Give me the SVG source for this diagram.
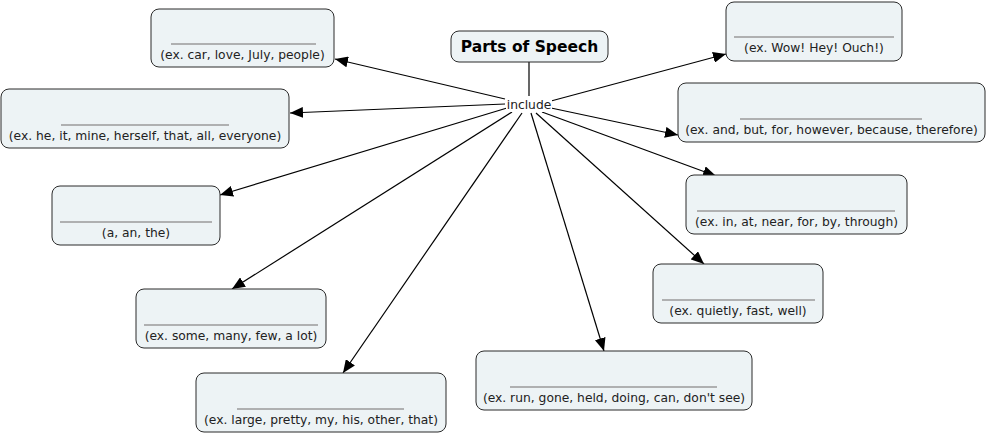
<svg xmlns="http://www.w3.org/2000/svg" width="988" height="435" viewBox="0 0 988 435">
<defs>
<style>
.box{fill:#edf3f5;stroke:#2b2b2b;stroke-width:1}
.ph{stroke:#9a9a9a;stroke-width:1.5}
.t{font-family:"DejaVu Sans",Verdana,sans-serif;font-size:12.3px;fill:#222;text-anchor:middle}
.title{font-family:"DejaVu Sans",Verdana,sans-serif;font-size:15.5px;font-weight:bold;fill:#000;text-anchor:middle}
.c{stroke:#000;stroke-width:1.2;fill:none}
</style>
<marker id="ah" markerUnits="userSpaceOnUse" markerWidth="14" markerHeight="11" refX="13" refY="5.5" orient="auto">
<path d="M0,0 L13,5.5 L0,11 Z" fill="#000"/>
</marker>
</defs>
<rect width="988" height="435" fill="#fff"/>

<g id="connectors">
<line class="c" x1="529" y1="62" x2="529" y2="96"/>
<line class="c" x1="505" y1="99" x2="335" y2="59" marker-end="url(#ah)"/>
<line class="c" x1="505" y1="104" x2="290" y2="113" marker-end="url(#ah)"/>
<line class="c" x1="507" y1="108" x2="220" y2="195" marker-end="url(#ah)"/>
<line class="c" x1="512" y1="112" x2="232" y2="289" marker-end="url(#ah)"/>
<line class="c" x1="522" y1="113" x2="343" y2="373" marker-end="url(#ah)"/>
<line class="c" x1="531" y1="113" x2="604" y2="351" marker-end="url(#ah)"/>
<line class="c" x1="536" y1="113" x2="704" y2="264" marker-end="url(#ah)"/>
<line class="c" x1="542" y1="112" x2="716" y2="176" marker-end="url(#ah)"/>
<line class="c" x1="551" y1="108" x2="678" y2="135" marker-end="url(#ah)"/>
<line class="c" x1="551" y1="101" x2="726" y2="54" marker-end="url(#ah)"/>
</g>

<g id="root">
<rect class="box" x="451" y="31" width="157" height="31" rx="8"/>
<text class="title" x="529.5" y="52">Parts of Speech</text>
</g>

<g id="include">
<rect x="506" y="97" width="46" height="15" fill="#fff"/>
<text class="t" x="529" y="109">include</text>
</g>

<g id="nouns">
<rect class="box" x="151" y="9" width="183" height="58" rx="8"/>
<line class="ph" x1="171" y1="44" x2="316" y2="44"/>
<text class="t" x="242.5" y="59">(ex. car, love, July, people)</text>
</g>

<g id="pronouns">
<rect class="box" x="1" y="89" width="288" height="59" rx="8"/>
<line class="ph" x1="61" y1="125" x2="229" y2="125"/>
<text class="t" x="145" y="140">(ex. he, it, mine, herself, that, all, everyone)</text>
</g>

<g id="articles">
<rect class="box" x="52" y="186" width="168" height="59" rx="8"/>
<line class="ph" x1="60" y1="222" x2="212" y2="222"/>
<text class="t" x="136" y="237">(a, an, the)</text>
</g>

<g id="quantifiers">
<rect class="box" x="136" y="289" width="190" height="59" rx="8"/>
<line class="ph" x1="144" y1="325" x2="318" y2="325"/>
<text class="t" x="231" y="340">(ex. some, many, few, a lot)</text>
</g>

<g id="adjectives">
<rect class="box" x="196" y="373" width="250" height="59" rx="8"/>
<line class="ph" x1="237" y1="409" x2="404" y2="409"/>
<text class="t" x="321" y="424">(ex. large, pretty, my, his, other, that)</text>
</g>

<g id="verbs">
<rect class="box" x="476" y="351" width="276" height="59" rx="8"/>
<line class="ph" x1="510" y1="387" x2="717" y2="387"/>
<text class="t" x="614" y="402">(ex. run, gone, held, doing, can, don't see)</text>
</g>

<g id="adverbs">
<rect class="box" x="653" y="264" width="170" height="59" rx="8"/>
<line class="ph" x1="662" y1="300" x2="815" y2="300"/>
<text class="t" x="738" y="315">(ex. quietly, fast, well)</text>
</g>

<g id="prepositions">
<rect class="box" x="686" y="175" width="221" height="59" rx="8"/>
<line class="ph" x1="697" y1="211" x2="895" y2="211"/>
<text class="t" x="796.5" y="226">(ex. in, at, near, for, by, through)</text>
</g>

<g id="conjunctions">
<rect class="box" x="678" y="83" width="307" height="59" rx="8"/>
<line class="ph" x1="740" y1="119" x2="922" y2="119"/>
<text class="t" x="831.5" y="134">(ex. and, but, for, however, because, therefore)</text>
</g>

<g id="interjections">
<rect class="box" x="726" y="2" width="176" height="59" rx="8"/>
<line class="ph" x1="734" y1="37" x2="894" y2="37"/>
<text class="t" x="814" y="52">(ex. Wow! Hey! Ouch!)</text>
</g>
</svg>
